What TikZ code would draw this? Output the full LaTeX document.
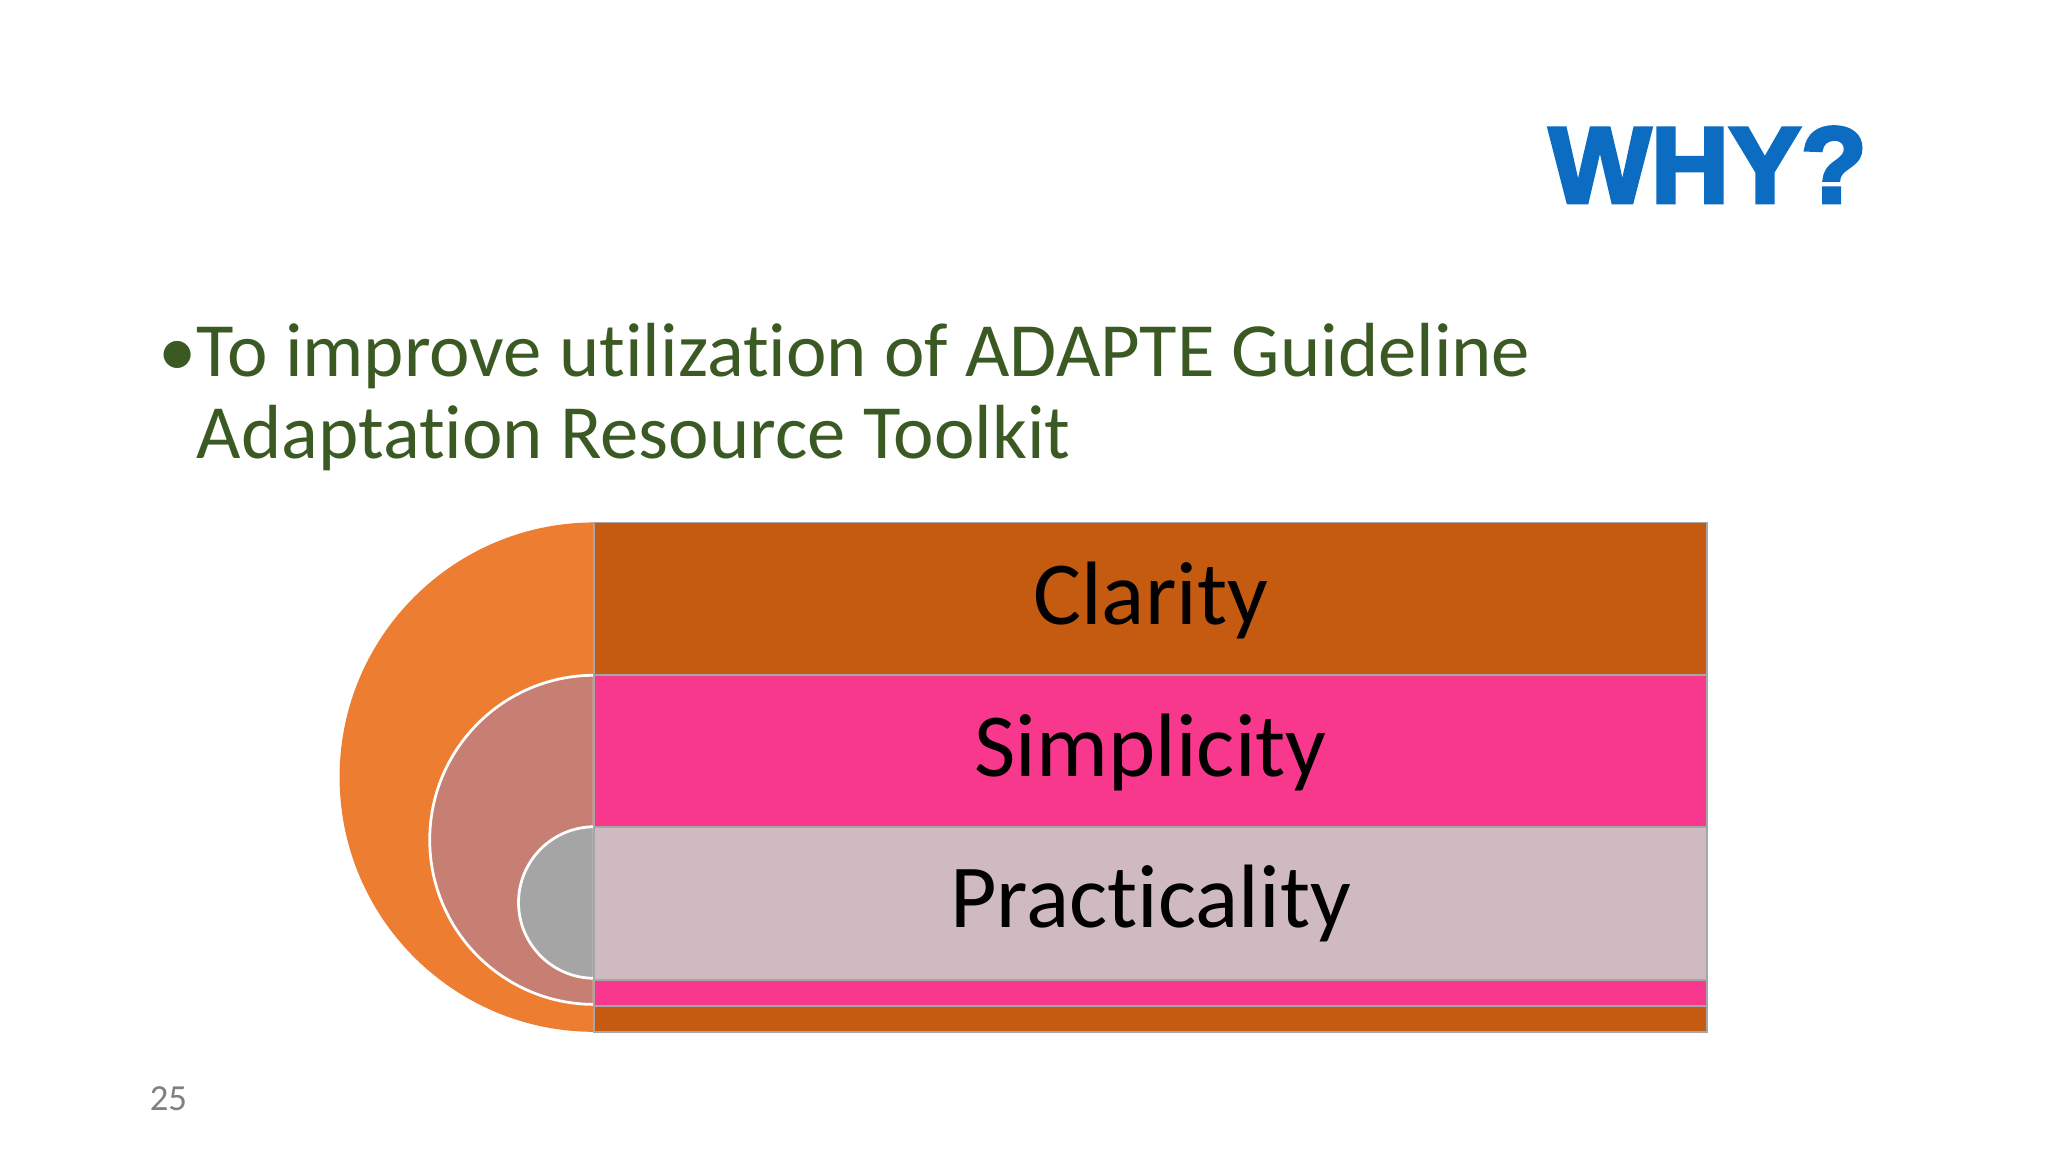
\documentclass[tikz,border=0pt]{standalone}
\usepackage{fontspec}
\setmainfont[Ligatures={NoCommon}]{Carlito}
\newfontfamily\whyfont[FakeBold=3.5]{Liberation Sans}
\definecolor{clarityorange}{HTML}{C55A11}
\definecolor{outerorange}{HTML}{ED7D31}
\definecolor{simplepink}{HTML}{F7388C}
\definecolor{midrose}{HTML}{C77F73}
\definecolor{practgray}{HTML}{CFBAC2}
\definecolor{innergray}{HTML}{A5A5A5}
\definecolor{bulletgreen}{HTML}{3B5A23}
\definecolor{whyblue}{HTML}{0B6CC1}
\tikzset{
  band/.style={draw=gray!70, line width=0.4pt},
  bandtext/.style={font=\fontsize{19.6}{23}\selectfont, text=black},
  halfdisc/.style={draw=white, line width=0.6pt}
}
\begin{document}
\begin{tikzpicture}[x=0.01cm, y=-0.01cm]
    \useasboundingbox (0,0) rectangle (1568,882);

    % title and bullet
    \node[anchor=base east, inner sep=0pt, font=\whyfont\bfseries\fontsize{23.5}{26}\selectfont, text=whyblue] (why) at (1430,155) {WHY?};
    \node[anchor=base west, inner sep=0pt, font=\fontsize{16.7}{20}\selectfont, text=bulletgreen] (dot) at (121,288) {\textbullet};
    \node[anchor=base west, inner sep=0pt, font=\fontsize{16.7}{20}\selectfont, text=bulletgreen] (line1) at (150,288) {To improve utilization of ADAPTE Guideline};
    \node[anchor=base west, inner sep=0pt, font=\fontsize{16.7}{20}\selectfont, text=bulletgreen] (line2) at (150,351) {Adaptation Resource Toolkit};

    % half discs
    \fill[outerorange] (455,400) arc[start angle=-90, end angle=-270, radius=195] -- cycle;
    \filldraw[midrose, halfdisc] (455,517) arc[start angle=-90, end angle=-270, radius=126] -- cycle;
    \filldraw[innergray, halfdisc] (455,633) arc[start angle=-90, end angle=-270, radius=58] -- cycle;

    % bands
    \filldraw[fill=clarityorange, band] (455,770) rectangle (1307,790);
    \filldraw[fill=simplepink, band] (455,750) rectangle (1307,770);
    \filldraw[fill=clarityorange, band] (455,400) rectangle (1307,517);
    \filldraw[fill=simplepink, band] (455,517) rectangle (1307,633);
    \filldraw[fill=practgray, band] (455,633) rectangle (1307,750);

    \node[bandtext] (clarity) at (881,460) {Clarity};
    \node[bandtext] (simplicity) at (881,576) {Simplicity};
    \node[bandtext] (practicality) at (881,692) {Practicality};

    % page number
    \node[font=\fontsize{8}{10}\selectfont, text=gray] (page) at (129,841) {25};
\end{tikzpicture}
\end{document}
